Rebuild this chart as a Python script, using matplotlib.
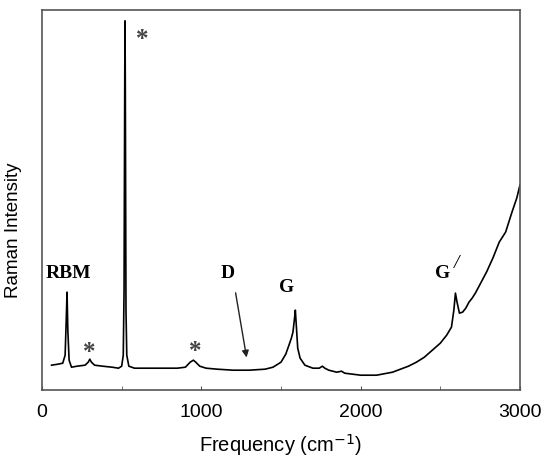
import matplotlib
matplotlib.use('Agg')
import matplotlib.pyplot as plt

# spectrum (intensity in arbitrary units)
freq = [60, 100, 130, 145, 152, 157, 162, 170, 185, 220, 270, 290, 300, 310, 330,
        380, 440, 480, 500, 510, 515, 519, 521, 523, 527, 532, 545, 580, 650, 750,
        850, 900, 930, 950, 965, 990, 1030, 1100, 1200, 1300, 1400, 1450, 1500,
        1530, 1550, 1565, 1575, 1585, 1590, 1596, 1605, 1620, 1650, 1700, 1740,
        1760, 1775, 1800, 1850, 1880, 1900, 1950, 2000, 2100, 2200, 2300, 2350,
        2400, 2450, 2500, 2540, 2570, 2585, 2595, 2605, 2620, 2640, 2660, 2680,
        2700, 2720, 2750, 2790, 2830, 2870, 2910, 2950, 2980, 3000]
intensity = [25, 26, 27, 35, 70, 98, 60, 30, 23, 24, 25, 28, 31, 28, 25,
             24, 23, 22, 24, 35, 100, 300, 369, 300, 80, 35, 24, 22, 22, 22,
             22, 23, 28, 30, 28, 24, 22, 21, 20, 20, 21, 23, 28,
             36, 45, 52, 58, 72, 80, 65, 42, 32, 25, 22, 22,
             24, 22, 20, 18, 19, 17, 16, 15, 15, 18, 24, 28,
             33, 40, 47, 55, 63, 80, 97, 88, 77, 78, 82, 88,
             92, 97, 106, 118, 132, 148, 158, 178, 192, 205]

# peak labels
labels = ['RBM', '*', '*', '*', 'D', 'G', 'G']
label_x = [163, 295, 628, 960, 1168, 1538, 2511]
label_y = [117, 42, 354, 43, 117, 103, 117]

fig = plt.figure(figsize=(5.5, 4.69), dpi=100)
ax = fig.add_axes([0.0764, 0.168, 0.869, 0.811])

ax.plot(freq, intensity, color='black', lw=1.2)

for t, x, y in zip(labels, label_x, label_y):
    if t == '*':
        ax.text(x, y - 4, t, ha='center', va='center', fontsize=18,
                family='Liberation Serif', fontweight='bold', color='#444444')
    else:
        ax.text(x, y, t, ha='center', va='center', fontsize=14,
                family='Liberation Serif', fontweight='bold')
ax.text(2605, 127, '/', ha='center', va='center', fontsize=14,
        family='Liberation Serif', style='italic')

ax.annotate('', xy=(1287, 30), xytext=(1212, 100),
            arrowprops=dict(arrowstyle='-|>', color='#222222', lw=1,
                            mutation_scale=10))

ax.set_xlim(0, 3000)
ax.set_ylim(0, 380)
ax.set_xticks([0, 1000, 2000, 3000])
ax.set_xticks([500, 1500, 2500], minor=True)
ax.set_yticks([])
ax.tick_params(axis='x', which='both', direction='in', length=3,
               labelsize=14, pad=10, color='#555555')
for lab in ax.get_xticklabels():
    lab.set_family('Liberation Sans')
for s in ax.spines.values():
    s.set_color('#555555')
    s.set_linewidth(1.2)

ax.set_xlabel('Frequency (cm$^{-1}$)', fontsize=14.5, family='Liberation Sans', labelpad=8)
ax.set_ylabel('Raman Intensity', fontsize=13.5, family='Liberation Sans')
ax.yaxis.set_label_coords(-0.042, 0.42)

fig.savefig('out.png', dpi=100)
